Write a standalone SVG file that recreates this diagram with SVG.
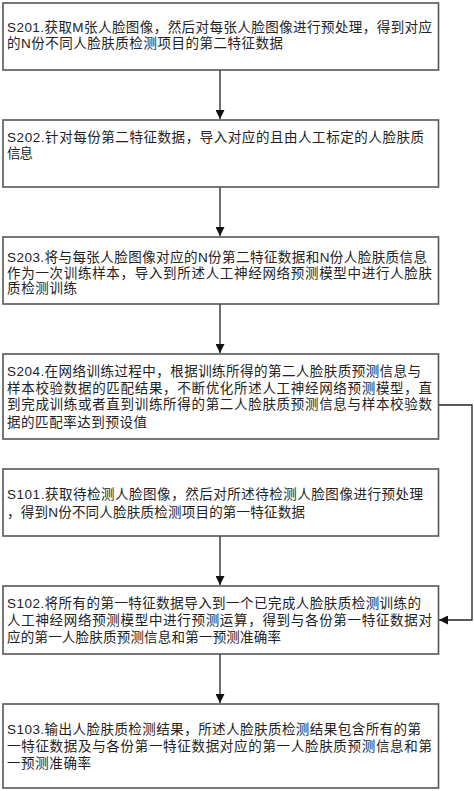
<svg xmlns="http://www.w3.org/2000/svg" width="474" height="791" viewBox="0 0 474 791">
<defs>
<marker id="ah" viewBox="0 0 10 10" refX="10" refY="5" markerWidth="9" markerHeight="9" markerUnits="userSpaceOnUse" orient="auto">
<path d="M0,0 L10,5 L0,10 z" fill="#111"/>
</marker>
<style>
.box{fill:#fff;stroke:#555;stroke-width:1.6}
.t{font-family:"Liberation Sans","Noto Sans CJK SC",sans-serif;font-size:13.5px;fill:#222}
.c{fill:none;stroke:#222;stroke-width:1.3}
</style>
</defs>
<rect width="474" height="791" fill="#fff"/>
<g id="connectors">
<line class="c" x1="220" y1="70" x2="220" y2="119" marker-end="url(#ah)"/>
<line class="c" x1="220" y1="187" x2="220" y2="236" marker-end="url(#ah)"/>
<line class="c" x1="220" y1="304" x2="220" y2="353" marker-end="url(#ah)"/>
<line class="c" x1="220" y1="536" x2="220" y2="585" marker-end="url(#ah)"/>
<line class="c" x1="220" y1="654" x2="220" y2="703" marker-end="url(#ah)"/>
<polyline class="c" points="438.5,405 472,405 472,620 439,620" marker-end="url(#ah)"/>
</g>
<g id="S201">
<rect class="box" x="3" y="3" width="435.5" height="67"/>
<text class="t" x="7" y="32" textLength="425" lengthAdjust="spacing">S201.获取M张人脸图像，然后对每张人脸图像进行预处理，得到对应</text>
<text class="t" x="7" y="48" textLength="276" lengthAdjust="spacing">的N份不同人脸肤质检测项目的第二特征数据</text>
</g>
<g id="S202">
<rect class="box" x="3" y="120" width="435.5" height="67"/>
<text class="t" x="7" y="142" textLength="417" lengthAdjust="spacing">S202.针对每份第二特征数据，导入对应的且由人工标定的人脸肤质</text>
<text class="t" x="7" y="157.5" textLength="26" lengthAdjust="spacing">信息</text>
</g>
<g id="S203">
<rect class="box" x="3" y="237" width="435.5" height="67"/>
<text class="t" x="7" y="262" textLength="420" lengthAdjust="spacing">S203.将与每张人脸图像对应的N份第二特征数据和N份人脸肤质信息</text>
<text class="t" x="7" y="277.5" textLength="425" lengthAdjust="spacing">作为一次训练样本，导入到所述人工神经网络预测模型中进行人脸肤</text>
<text class="t" x="7" y="293" textLength="70" lengthAdjust="spacing">质检测训练</text>
</g>
<g id="S204">
<rect class="box" x="3" y="354" width="435.5" height="85"/>
<text class="t" x="7" y="376" textLength="414" lengthAdjust="spacing">S204.在网络训练过程中，根据训练所得的第二人脸肤质预测信息与</text>
<text class="t" x="7" y="392.5" textLength="425" lengthAdjust="spacing">样本校验数据的匹配结果，不断优化所述人工神经网络预测模型，直</text>
<text class="t" x="7" y="409" textLength="425" lengthAdjust="spacing">到完成训练或者直到训练所得的第二人脸肤质预测信息与样本校验数</text>
<text class="t" x="7" y="427" textLength="140" lengthAdjust="spacing">据的匹配率达到预设值</text>
</g>
<g id="S101">
<rect class="box" x="3" y="469" width="435.5" height="67"/>
<text class="t" x="7" y="499" textLength="416" lengthAdjust="spacing">S101.获取待检测人脸图像，然后对所述待检测人脸图像进行预处理</text>
<text class="t" x="7" y="517" textLength="298" lengthAdjust="spacing">，得到N份不同人脸肤质检测项目的第一特征数据</text>
</g>
<g id="S102">
<rect class="box" x="3" y="586" width="435.5" height="68"/>
<text class="t" x="7" y="608" textLength="414" lengthAdjust="spacing">S102.将所有的第一特征数据导入到一个已完成人脸肤质检测训练的</text>
<text class="t" x="7" y="625" textLength="425" lengthAdjust="spacing">人工神经网络预测模型中进行预测运算，得到与各份第一特征数据对</text>
<text class="t" x="7" y="642" textLength="274" lengthAdjust="spacing">应的第一人脸肤质预测信息和第一预测准确率</text>
</g>
<g id="S103">
<rect class="box" x="3" y="704" width="435.5" height="84"/>
<text class="t" x="7" y="734" textLength="414" lengthAdjust="spacing">S103.输出人脸肤质检测结果，所述人脸肤质检测结果包含所有的第</text>
<text class="t" x="7" y="751" textLength="425" lengthAdjust="spacing">一特征数据及与各份第一特征数据对应的第一人脸肤质预测信息和第</text>
<text class="t" x="7" y="767.5" textLength="84" lengthAdjust="spacing">一预测准确率</text>
</g>
</svg>
